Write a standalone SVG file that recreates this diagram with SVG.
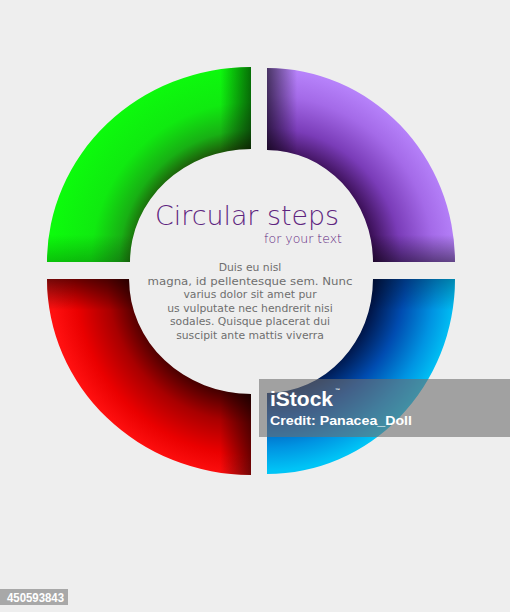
<svg xmlns="http://www.w3.org/2000/svg" width="510" height="612" viewBox="0 0 510 612">
<defs>
<style>
.title{font-family:"DejaVu Sans","Liberation Sans",sans-serif;fill:#5e2580;font-weight:300}
.body{font-family:"DejaVu Sans","Liberation Sans",sans-serif;fill:#6e6e6e;font-size:10.8px;text-anchor:middle}
.wm{font-family:"Liberation Sans",Arial,sans-serif;fill:#ffffff;font-weight:bold}
</style>
<radialGradient id="gG" gradientUnits="userSpaceOnUse" cx="251" cy="262" r="200">
<stop offset="0.56" stop-color="#1d5208"/>
<stop offset="0.66" stop-color="#18b014"/>
<stop offset="0.8" stop-color="#10ea10"/>
<stop offset="1" stop-color="#0cfb0c"/>
</radialGradient>
<radialGradient id="gP" gradientUnits="userSpaceOnUse" cx="267" cy="262" r="192">
<stop offset="0.56" stop-color="#3c1058"/>
<stop offset="0.7" stop-color="#7a3cb8"/>
<stop offset="0.87" stop-color="#a46ae8"/>
<stop offset="1" stop-color="#b682fa"/>
</radialGradient>
<radialGradient id="gR" gradientUnits="userSpaceOnUse" cx="251" cy="279" r="200">
<stop offset="0.57" stop-color="#3e0000"/>
<stop offset="0.72" stop-color="#a80000"/>
<stop offset="0.88" stop-color="#ea0000"/>
<stop offset="1" stop-color="#ff1010"/>
</radialGradient>
<radialGradient id="gB" gradientUnits="userSpaceOnUse" cx="267" cy="279" r="192">
<stop offset="0.56" stop-color="#001548"/>
<stop offset="0.72" stop-color="#004cb0"/>
<stop offset="0.88" stop-color="#0094e2"/>
<stop offset="1" stop-color="#00c4f6"/>
</radialGradient>
<linearGradient id="shR" gradientUnits="objectBoundingBox" x1="1" y1="0" x2="0" y2="0">
<stop offset="0" stop-color="#000" stop-opacity="0.55"/>
<stop offset="0.15" stop-color="#000" stop-opacity="0"/>
</linearGradient>
<linearGradient id="shL" gradientUnits="objectBoundingBox" x1="0" y1="0" x2="1" y2="0">
<stop offset="0" stop-color="#000" stop-opacity="0.6"/>
<stop offset="0.16" stop-color="#000" stop-opacity="0"/>
</linearGradient>
<linearGradient id="shB" gradientUnits="objectBoundingBox" x1="0" y1="1" x2="0" y2="0">
<stop offset="0" stop-color="#000" stop-opacity="0.45"/>
<stop offset="0.14" stop-color="#000" stop-opacity="0"/>
</linearGradient>
<linearGradient id="shT" gradientUnits="objectBoundingBox" x1="0" y1="0" x2="0" y2="1">
<stop offset="0" stop-color="#000" stop-opacity="0.55"/>
<stop offset="0.16" stop-color="#000" stop-opacity="0"/>
</linearGradient>
</defs>
<rect width="510" height="612" fill="#eeeeee"/>

<g id="step-green">
<path d="M47 262 A204 195 0 0 1 251 67 L251 149 A121 113 0 0 0 130 262 Z" fill="url(#gG)"/>
<path d="M47 262 A204 195 0 0 1 251 67 L251 149 A121 113 0 0 0 130 262 Z" fill="url(#shR)"/>
<path d="M47 262 A204 195 0 0 1 251 67 L251 149 A121 113 0 0 0 130 262 Z" fill="url(#shB)" opacity="0.5"/>
</g>
<g id="step-purple">
<path d="M267 68 A188 194 0 0 1 455 262 L373 262 A106 112 0 0 0 267 150 Z" fill="url(#gP)"/>
<path d="M267 68 A188 194 0 0 1 455 262 L373 262 A106 112 0 0 0 267 150 Z" fill="url(#shL)"/>
<path d="M267 68 A188 194 0 0 1 455 262 L373 262 A106 112 0 0 0 267 150 Z" fill="url(#shB)"/>
</g>
<g id="step-red">
<path d="M47 279 L129 279 A122 115 0 0 0 251 394 L251 475 A204 196 0 0 1 47 279 Z" fill="url(#gR)"/>
<path d="M47 279 L129 279 A122 115 0 0 0 251 394 L251 475 A204 196 0 0 1 47 279 Z" fill="url(#shT)"/>
<path d="M47 279 L129 279 A122 115 0 0 0 251 394 L251 475 A204 196 0 0 1 47 279 Z" fill="url(#shR)"/>
</g>
<g id="step-blue">
<path d="M267 474 L267 393 A106 114 0 0 0 373 279 L455 279 A188 195 0 0 1 267 474 Z" fill="url(#gB)"/>
<path d="M267 474 L267 393 A106 114 0 0 0 373 279 L455 279 A188 195 0 0 1 267 474 Z" fill="url(#shT)" opacity="0.5"/>
</g>
<g id="connectors"/>

<g id="center-text">
<text class="title" x="155" y="225" font-size="26" textLength="184" lengthAdjust="spacingAndGlyphs">Circular steps</text>
<text class="title" x="342" y="243" font-size="12.5" text-anchor="end">for your text</text>
<text class="body" x="250" y="271">Duis eu nisl</text>
<text class="body" x="250" y="284.5" textLength="205" lengthAdjust="spacingAndGlyphs">magna, id pellentesque sem. Nunc</text>
<text class="body" x="250" y="298">varius dolor sit amet pur</text>
<text class="body" x="250" y="311.5">us vulputate nec hendrerit nisi</text>
<text class="body" x="250" y="325">sodales. Quisque placerat dui</text>
<text class="body" x="250" y="338.5">suscipit ante mattis viverra</text>
</g>

<g id="watermark">
<rect x="259" y="379" width="251" height="58" fill="#6e6e6e" fill-opacity="0.6"/>
<text class="wm" x="270" y="406" font-size="21">iStock</text>
<text class="wm" x="335" y="392" font-size="5">™</text>
<text class="wm" x="270" y="425" font-size="13" textLength="142" lengthAdjust="spacingAndGlyphs">Credit: Panacea_Doll</text>
<rect x="0" y="589" width="68" height="16" fill="#a8a8a8"/>
<text class="wm" x="7" y="602" font-size="12" font-weight="normal" textLength="57" lengthAdjust="spacingAndGlyphs">450593843</text>
</g>
</svg>
